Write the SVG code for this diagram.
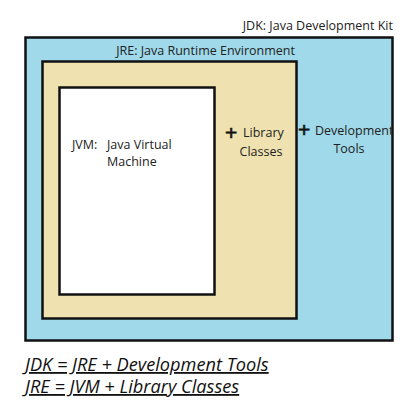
<svg xmlns="http://www.w3.org/2000/svg" width="416" height="406" viewBox="0 0 416 406">
<style>
.box{stroke:#111;stroke-width:2.5}
.t{font-family:"Open Sans","Liberation Sans",sans-serif;font-size:12.5px;fill:#222}
.p{font-family:"Liberation Sans",sans-serif;font-size:21px;fill:#111;stroke:#111;stroke-width:0.6}
.f{font-family:"Open Sans","Liberation Sans",sans-serif;font-size:18.2px;font-style:italic;fill:#111;text-decoration:underline}
</style>
<rect width="416" height="406" fill="#fff"/>
<g id="jdk">
<rect class="box" x="25.5" y="37.5" width="367" height="303" fill="#9fd9ea"/>
<text class="t" x="393" y="30" text-anchor="end">JDK: Java Development Kit</text>
<text class="p" x="298" y="137">+</text>
<text class="t" x="315" y="135">Development</text>
<text class="t" x="349" y="153" text-anchor="middle">Tools</text>
</g>
<g id="jre">
<rect class="box" x="42.5" y="61.5" width="254" height="257" fill="#efe2b0"/>
<text class="t" x="295" y="55" text-anchor="end">JRE: Java Runtime Environment</text>
<text class="p" x="225" y="140">+</text>
<text class="t" x="243" y="137">Library</text>
<text class="t" x="261" y="156" text-anchor="middle">Classes</text>
</g>
<g id="jvm">
<rect class="box" x="59.5" y="87.5" width="155" height="207" fill="#fff"/>
<text class="t" x="72" y="149">JVM:</text>
<text class="t" x="107" y="149">Java Virtual</text>
<text class="t" x="107" y="166">Machine</text>
</g>
<g id="legend">
<text class="f" x="25" y="371">JDK = JRE + Development Tools</text>
<text class="f" x="25" y="393">JRE = JVM + Library Classes</text>
</g>
</svg>
